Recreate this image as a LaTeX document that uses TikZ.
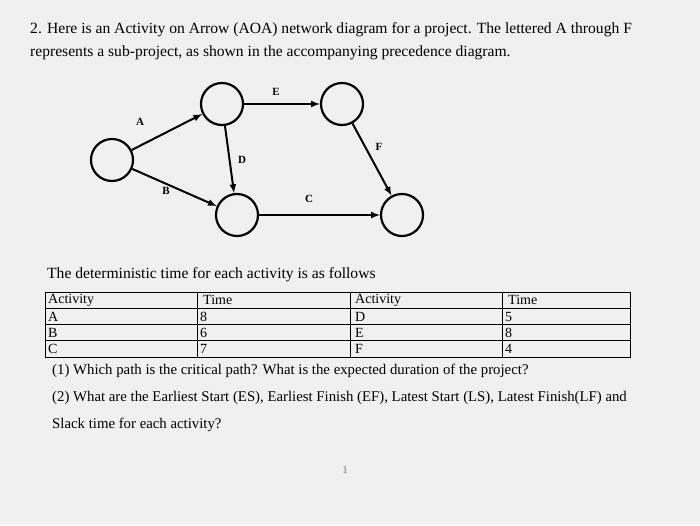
\documentclass[tikz,border=0pt]{standalone}
\usepackage{fontspec}
\setmainfont{Liberation Serif}
\begin{document}
\begin{tikzpicture}[x=1pt,y=-1pt,
  ev/.style={circle,draw,line width=2.2pt,minimum size=42pt,inner sep=0pt},
  act/.style={-latex,line width=2pt},
  lab/.style={font=\fontsize{11}{11}\selectfont\bfseries},
  txt/.style={anchor=west,inner sep=0pt,font=\fontsize{15.6}{15.6}\selectfont},
  qtxt/.style={anchor=west,inner sep=0pt,font=\fontsize{14.8}{14.8}\selectfont},
  cell/.style={anchor=west,inner sep=0pt,font=\fontsize{14}{14}\selectfont}]
\fill[gray!12] (0,0) rectangle (700,525);
\useasboundingbox (0,0) rectangle (700,525);
\node[txt] (t1) at (30,30) {2. Here is an Activity on Arrow (AOA) network diagram for a project. The lettered A through F};
\node[txt] (t2) at (30,53) {represents a sub-project, as shown in the accompanying precedence diagram.};
\node[ev] (n1) at (112,160) {};
\node[ev] (n2) at (222,104) {};
\node[ev] (n3) at (342,104) {};
\node[ev] (n4) at (237,215) {};
\node[ev] (n5) at (402,215) {};
\draw[act] (n1) -- (n2);
\draw[act] (n2) -- (n3);
\draw[act] (n1) -- (n4);
\draw[act] (n2) -- (n4);
\draw[act] (n4) -- (n5);
\draw[act] (n3) -- (n5);
\node[lab] (la) at (140,122) {A};
\node[lab] (le) at (276,92) {E};
\node[lab] (lb) at (166,191) {B};
\node[lab] (ld) at (242,160) {D};
\node[lab] (lc) at (309,199) {C};
\node[lab] (lf) at (379,147) {F};
\node[txt] (t3) at (47,275) {The deterministic time for each activity is as follows};
\draw[line width=0.7pt] (45,292) rectangle (630,357);
\foreach \y in {308,324,340} \draw[line width=0.7pt] (45,\y) -- (630,\y);
\foreach \x in {197,350,502} \draw[line width=0.7pt] (\x,292) -- (\x,357);
\node[cell] (h1) at (48,300) {Activity};
\node[cell] (h2) at (203,300) {Time};
\node[cell] (h3) at (355,300) {Activity};
\node[cell] (h4) at (508,300) {Time};
\node[cell] (ra) at (48,317) {A}; \node[cell] (r8) at (200,317) {8};
\node[cell] (rd) at (355,317) {D}; \node[cell] (r5) at (505,317) {5};
\node[cell] (rb) at (48,333) {B}; \node[cell] (r6) at (200,333) {6};
\node[cell] (re) at (355,333) {E}; \node[cell] (r8b) at (505,333) {8};
\node[cell] (rc) at (48,349) {C}; \node[cell] (r7) at (200,349) {7};
\node[cell] (rf) at (355,349) {F}; \node[cell] (r4) at (505,349) {4};
\node[qtxt] (q1) at (52,371) {(1) Which path is the critical path? What is the expected duration of the project?};
\node[qtxt] (q2) at (52,398) {(2) What are the Earliest Start (ES), Earliest Finish (EF), Latest Start (LS), Latest Finish(LF) and};
\node[qtxt] (q3) at (52,425) {Slack time for each activity?};
\node[font=\fontsize{11}{11}\selectfont,gray] (pg) at (345,470) {1};
\end{tikzpicture}
\end{document}
